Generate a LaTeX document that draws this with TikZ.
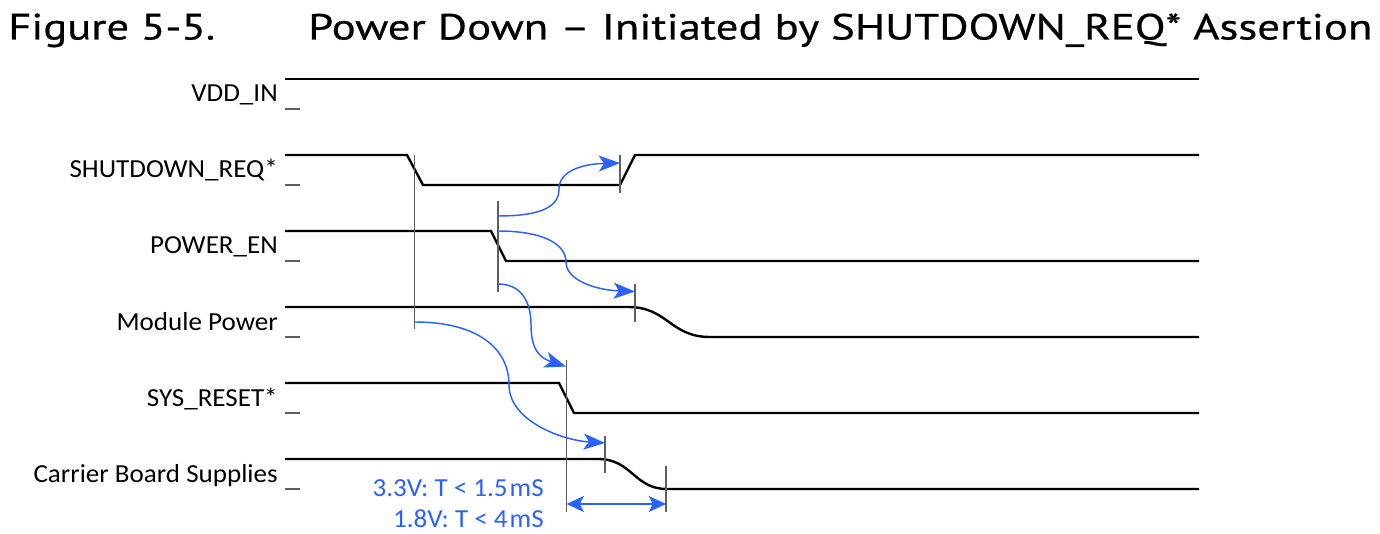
\documentclass[tikz,border=0pt]{standalone}
\usepackage{fontspec}
\setmainfont{Carlito}
\newfontfamily\titlefont[FakeBold=0.5]{PT Sans}
\usetikzlibrary{arrows.meta}
\definecolor{tblue}{RGB}{41,98,255}
\definecolor{mgray}{RGB}{95,95,95}
\newlength\ux \setlength\ux{0.75pt}
\newcommand\widetxt[1]{\scalebox{1.04}[1]{#1}}
\begin{document}
\begin{tikzpicture}[x=0.75pt,y=-0.75pt,
  sig/.style={line width=1.8pt, black, line join=miter},
  marker/.style={line width=1pt, mgray},
  lowtick/.style={line width=0.8pt, mgray},
  lbl/.style={anchor=base east, inner sep=0, font=\fontsize{19.5}{21}\selectfont},
  note/.style={anchor=base east, inner sep=0, text=tblue, font=\fontsize{19.5}{21}\selectfont},
  dep/.style={tblue, line width=1.1pt, -{Stealth[length=16pt,width=12pt,inset=4pt]}},
  span/.style={tblue, line width=1.1pt, {Stealth[length=13pt,width=12pt,inset=3pt]}-{Stealth[length=13pt,width=12pt,inset=3pt]}}]
\useasboundingbox (0,0) rectangle (1380,534);
% title
\node[anchor=base west, inner sep=0] (fig) at (8,39.5) {\resizebox{207\ux}{26\ux}{\titlefont Figure 5-5.}};
\node[anchor=base west, inner sep=0] (title) at (308,39.5) {\resizebox{1064\ux}{26\ux}{\titlefont Power Down – Initiated by SHUTDOWN\_REQ* Assertion}};
% labels
\node[lbl] (lvdd) at (278,102) {\widetxt{VDD\_IN}};
\node[lbl] (lsd) at (278,178) {\widetxt{SHUTDOWN\_REQ*}};
\node[lbl] (lpe) at (278,254) {\widetxt{POWER\_EN}};
\node[lbl] (lmp) at (278,330) {\widetxt{Module Power}};
\node[lbl] (lsr) at (278,406) {\widetxt{SYS\_RESET*}};
\node[lbl] (lcb) at (278,482) {\widetxt{Carrier Board Supplies}};
% low-level ticks
\foreach \y in {109,185,261,337,413,489} \draw[lowtick] (285,\y) -- (300,\y);
% waveforms
\draw[sig] (285,79) -- (1199,79);
\draw[sig] (285,155) -- (407,155) -- (423,185) -- (620,185) -- (635,155) -- (1199,155);
\draw[sig] (285,231) -- (491,231) -- (506,261) -- (1199,261);
\draw[sig] (285,307) -- (628,307) .. controls (668,307) and (670,337) .. (710,337) -- (1199,337);
\draw[sig] (285,383) -- (559,383) -- (574,413) -- (1199,413);
\draw[sig] (285,459) -- (598,459) .. controls (632,459) and (634,489) .. (667,489) -- (1199,489);
% marker lines
\draw[marker] (414.5,155) -- (414.5,329);
\draw[marker] (620,155) -- (620,193);
\draw[marker] (498,201) -- (498,292);
\draw[marker] (635,284) -- (635,322);
\draw[marker] (566.5,360) -- (566.5,512);
\draw[marker] (605,436) -- (605,473);
\draw[marker] (666,466) -- (666,512);
% dependency arrows
\coordinate (a1s) at (498,216); \coordinate (a1e) at (620,163);
\coordinate (a2s) at (498,231); \coordinate (a2e) at (635,291.5);
\coordinate (a3s) at (498,284); \coordinate (a3e) at (566,366.5);
\coordinate (a4s) at (414.5,322); \coordinate (a4e) at (605,443);
\draw[dep] (a1s) .. controls (545,216) and (559,205) .. (559,189) .. controls (559,172) and (580,164) .. (a1e);
\draw[dep] (a2s) .. controls (545,231) and (566,245) .. (566,262) .. controls (566,280) and (595,290) .. (a2e);
\draw[dep] (a3s) .. controls (520,284) and (531,300) .. (531,325) .. controls (531,350) and (540,358) .. (a3e);
\draw[dep] (a4s) .. controls (480,322) and (509,350) .. (509,385) .. controls (509,420) and (560,440) .. (a4e);
% span
\coordinate (s1) at (566.5,504); \coordinate (s2) at (666,504);
\draw[span] (s1) -- (s2);
\node[note] (t1) at (544,496) {\widetxt{3.3V: T < 1.5\kern1.5pt mS}};
\node[note] (t2) at (544,527) {\widetxt{1.8V: T < 4\kern1.5pt mS}};
\end{tikzpicture}
\end{document}
